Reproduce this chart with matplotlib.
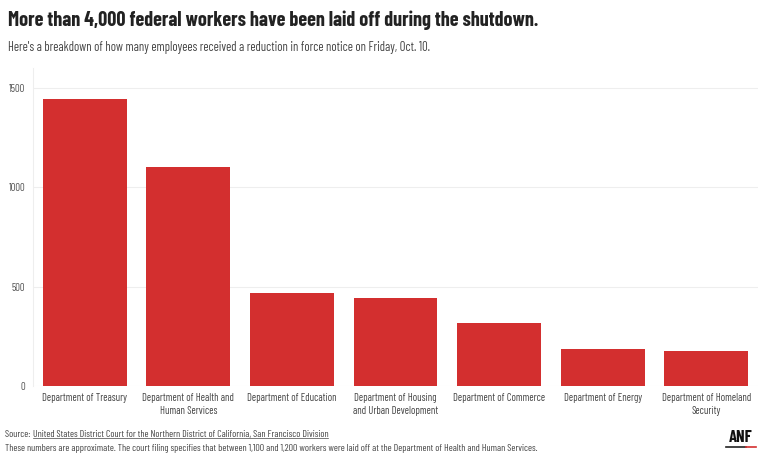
import matplotlib.pyplot as plt

plt.rcParams['font.family'] = ['Barlow Condensed', 'DejaVu Sans']

departments = ['Department of Treasury', 'Department of Health and\nHuman Services',
               'Department of Education', 'Department of Housing\nand Urban Development',
               'Department of Commerce', 'Department of Energy',
               'Department of Homeland\nSecurity']
layoffs = [1446, 1100, 466, 442, 315, 187, 178]
yticks = [0, 500, 1000, 1500]

fig = plt.figure(figsize=(7.68, 4.61), dpi=100)
ax = fig.add_axes([0.043, 0.163, 0.944, 0.689])

ax.bar(range(len(departments)), layoffs, width=0.81, color='#d32f2f', zorder=2)
ax.set_xlim(-0.5, len(departments) - 0.5)
ax.set_ylim(0, 1600)
ax.set_yticks(yticks)
ax.set_yticklabels([str(t) for t in yticks])
ax.set_xticks(range(len(departments)))
ax.set_xticklabels(departments, fontsize=7.6, color='#444444', linespacing=1.45)
ax.tick_params(axis='y', labelsize=7.6, labelcolor='#555555', length=0, pad=5.5)
ax.tick_params(axis='x', length=0, pad=5)
ax.grid(axis='y', color='#eeeeee', linewidth=0.8, zorder=0)
for s in ['top', 'right', 'bottom']:
    ax.spines[s].set_visible(False)
ax.spines['left'].set_color('#eeeeee')
ax.spines['left'].set_linewidth(0.8)

fig.text(0.01, 0.957, 'More than 4,000 federal workers have been laid off during the shutdown.',
         fontsize=14.5, fontweight='bold', color='#222222', va='center')
fig.text(0.01, 0.898, "Here's a breakdown of how many employees received a reduction in force notice on Friday, Oct. 10.",
         fontsize=9.1, color='#444444', va='center')
t = fig.text(0.007, 0.057, 'Source: ', fontsize=7.1, color='#444444', va='center')
fig.canvas.draw()
x1 = t.get_window_extent().transformed(fig.transFigure.inverted()).x1
src = fig.text(x1, 0.057, 'United States District Court for the Northern District of California, San Francisco Division',
               fontsize=7.1, color='#444444', va='center')
fig.text(0.007, 0.028, 'These numbers are approximate. The court filing specifies that between 1,100 and 1,200 workers were laid off at the Department of Health and Human Services.',
         fontsize=7.1, color='#444444', va='center')
fig.text(0.964, 0.052, 'ANF', fontsize=12, fontweight='bold', color='#111111', ha='center', va='center')
fig.add_artist(plt.Line2D([0.945, 0.971], [0.031, 0.031], color='#222222', linewidth=1.2))
fig.add_artist(plt.Line2D([0.971, 0.984], [0.031, 0.031], color='#d32f2f', linewidth=1.2))

fig.canvas.draw()
bb = src.get_window_extent().transformed(fig.transFigure.inverted())
fig.add_artist(plt.Line2D([bb.x0, bb.x1], [bb.y0 + 0.002, bb.y0 + 0.002], color='#444444', linewidth=0.5))

fig.savefig('out.png', dpi=100, facecolor='white')
